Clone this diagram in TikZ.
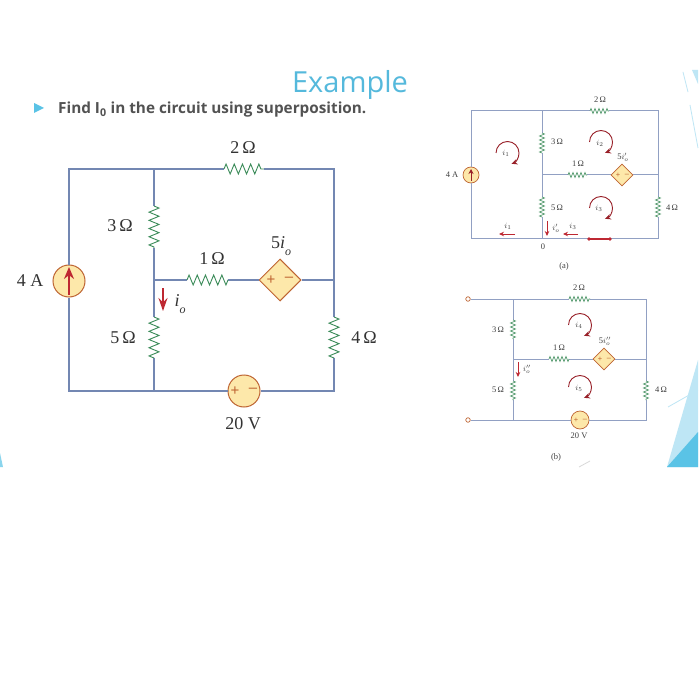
\documentclass[tikz,border=0pt]{standalone}
\usepackage{fontspec}
\setmainfont{Liberation Serif}
\newfontfamily\uifont{Open Sans}
\newfontfamily\signf{Liberation Sans}
\usetikzlibrary{arrows.meta,decorations.pathmorphing,shapes.geometric}
\definecolor{wirec}{RGB}{115,135,178}
\definecolor{wirel}{RGB}{145,160,195}
\definecolor{resc}{RGB}{60,140,90}
\definecolor{srcfill}{RGB}{253,232,170}
\definecolor{srcline}{RGB}{190,100,50}
\definecolor{redc}{RGB}{190,40,50}
\definecolor{titlec}{RGB}{85,185,220}
\definecolor{paleb}{RGB}{190,230,245}
\definecolor{midb}{RGB}{90,195,230}
\newcommand{\ital}[1]{\textit{#1}}
\newcommand{\ohm}{\,Ω}
\newcommand{\iosub}{\ital{i}\raisebox{-0.38em}{\fontsize{12}{12}\selectfont\ital{o}}}
\tikzset{
 x=1pt,y=-1pt,
 wire/.style={draw=wirec,line width=1.2pt},
 wiresm/.style={draw=wirel,line width=1pt},
 res/.style={draw=resc,line width=0.9pt,decoration={zigzag,segment length=8.2pt,amplitude=5pt},decorate},
 ressm/.style={draw=resc,line width=0.6pt,decoration={zigzag,segment length=4pt,amplitude=2.5pt},decorate},
 lab/.style={font=\fontsize{18}{20}\selectfont,text=black!80,inner sep=0pt},
 labs/.style={font=\fontsize{8.5}{9}\selectfont,text=black!75,inner sep=0pt},
 src/.style={circle,draw=srcline,fill=srcfill,line width=1pt,inner sep=0pt,minimum size=#1},
 dep/.style={diamond,aspect=1,draw=srcline,fill=srcfill,line width=1pt,inner sep=0pt,minimum size=#1},
 sign/.style={text=srcline,font=\signf\fontsize{15}{15}\selectfont,inner sep=0pt},
 signs/.style={text=srcline,font=\signf\fontsize{7.5}{8}\selectfont,inner sep=0pt},
 cur/.style={draw=redc,line width=1.5pt,-{Stealth[length=13pt,width=9pt]}},
 curs/.style={draw=redc,line width=0.9pt,-{Stealth[length=5pt,width=4.5pt]}},
 loopa/.style={draw=redc!80!black,line width=0.9pt,-{Stealth[length=6pt,width=5.5pt]}},
}
\begin{document}
\begin{tikzpicture}
\useasboundingbox (0,0) rectangle (698,700);
\fill[white] (0,0) rectangle (698,700);
% slide decoration
\fill[paleb] (698,360) -- (698,467) -- (667,467) -- cycle;
\fill[midb] (698,432) -- (698,467) -- (667,467) -- cycle;
\draw[paleb,line width=0.8pt] (683,72) -- (688,92);
\draw[paleb,line width=0.8pt] (690,105) -- (698,148);
\fill[paleb] (692,70) -- (698,70) -- (698,84) -- cycle;
\draw[paleb,line width=0.8pt] (668,407) -- (698,390);
\draw[black!15,line width=0.8pt] (579,467) -- (590,461);
\fill[midb!70] (0,453) -- (3,467) -- (0,467) -- cycle;
% heading
\node[text=titlec,font=\uifont\fontsize{29}{32}\selectfont,inner sep=0pt] (title) at (350,85) {Example};
\fill[midb] (34,103) -- (44,108) -- (34,113) -- cycle;
\node[anchor=west,text=black!68,font=\uifont\fontsize{15.3}{18}\selectfont\bfseries,inner sep=0pt] (find) at (58,110) {Find I\textsubscript{0} in the circuit using superposition.};
% MAIN CIRCUIT
\coordinate (tl) at (69,169); \coordinate (tm) at (154,169); \coordinate (tr) at (334,169);
\coordinate (ml) at (154,280); \coordinate (mr) at (334,280);
\coordinate (bl) at (69,391); \coordinate (bm) at (154,391); \coordinate (br) at (334,391);
\coordinate (r2a) at (224,169); \coordinate (r2b) at (264,169);
\coordinate (r3a) at (154,206); \coordinate (r3b) at (154,248);
\coordinate (r5a) at (154,317); \coordinate (r5b) at (154,358);
\coordinate (r1a) at (187,280); \coordinate (r1b) at (228,280);
\coordinate (r4a) at (334,317); \coordinate (r4b) at (334,358);
\node[src=32pt] (sA) at (69,281) {};
\node[dep=42pt] (dV) at (280,280) {};
\node[src=32pt] (sV) at (244,391) {};
\draw[wire] (sA) -- (tl) -- (r2a) (r2b) -- (tr) -- (r4a) (r4b) -- (br) -- (sV) -- (bl) -- (sA);
\draw[wire] (tm) -- (r3a) (r3b) -- (r5a) (r5b) -- (bm);
\draw[wire] (ml) -- (r1a) (r1b) -- (dV) (dV) -- (mr);
\draw[res] (r2a) -- (r2b); \draw[res] (r3a) -- (r3b); \draw[res] (r5a) -- (r5b);
\draw[res] (r1a) -- (r1b); \draw[res] (r4a) -- (r4b);
\draw[draw=redc,line width=1.6pt,-{Stealth[length=12pt,width=10pt]}] (69,295) -- (69,267);
\node[sign] at (271,280.5) {+};
\node[sign] at (289,279.5) {–};
\node[sign] at (235,391) {+};
\node[sign] at (253,390.5) {–};
\draw[cur] (163,288) -- (163,311);
\node[lab] (l2) at (243,148) {2\ohm};
\node[lab] (l3) at (120,226) {3\ohm};
\node[lab] (l5) at (123,338) {5\ohm};
\node[lab] (l1) at (212,259) {1\ohm};
\node[lab] (l4) at (364,338) {4\ohm};
\node[lab] (lA) at (30,281) {4 A};
\node[lab] (lV) at (243,424) {20 V};
\node[lab] (lk) at (281,246) {5\iosub};
\node[lab] (lio) at (180,304) {\iosub};
% FIGURE (a)
\coordinate (atl) at (471,111); \coordinate (atm) at (542,111); \coordinate (atr) at (658,111);
\coordinate (aml) at (542,175); \coordinate (amr) at (658,175);
\coordinate (abl) at (471,239); \coordinate (abm) at (542,239); \coordinate (abr) at (658,239);
\coordinate (a2a) at (590,111); \coordinate (a2b) at (609,111);
\coordinate (a3a) at (542,133); \coordinate (a3b) at (542,153);
\coordinate (a5a) at (542,197); \coordinate (a5b) at (542,217);
\coordinate (a1a) at (568,175); \coordinate (a1b) at (587,175);
\coordinate (a4a) at (658,197); \coordinate (a4b) at (658,217);
\coordinate (asa) at (589,239); \coordinate (asb) at (610,239);
\node[src=16pt,line width=0.7pt] (aA) at (471,175) {};
\node[dep=22pt,line width=0.7pt] (aD) at (622,175) {};
\draw[wiresm] (aA) -- (atl) -- (a2a) (a2b) -- (atr) -- (a4a) (a4b) -- (abr) -- (asb) (asa) -- (abl) -- (aA);
\draw[wiresm] (atm) -- (a3a) (a3b) -- (a5a) (a5b) -- (abm);
\draw[wiresm] (aml) -- (a1a) (a1b) -- (aD) (aD) -- (amr);
\draw[ressm] (a2a) -- (a2b); \draw[ressm] (a3a) -- (a3b); \draw[ressm] (a5a) -- (a5b);
\draw[ressm] (a1a) -- (a1b); \draw[ressm] (a4a) -- (a4b);
\draw[draw=redc,line width=1.2pt] (asa) -- (asb);
\fill[redc] (asa) circle (1.8pt) (asb) circle (1.8pt);
\draw[draw=redc!80!black,line width=0.9pt,-{Stealth[length=5pt,width=5pt]}] (471,181) -- (471,169);
\node[signs] at (618,175) {+};
\node[signs] at (627,175) {–};
\draw[loopa] (496,153) arc[start angle=180,end angle=430,radius=11.5];
\draw[loopa] (589.5,142) arc[start angle=180,end angle=430,radius=11.5];
\draw[loopa] (589.5,208) arc[start angle=180,end angle=430,radius=11.5];
\draw[curs] (515,234) -- (499,234);
\draw[curs] (578,234) -- (563,234);
\draw[curs] (547,221) -- (547,236);
\node[labs] at (600,100) {2\ohm};
\node[labs] at (557,142) {3\ohm};
\node[labs] at (557,208) {5\ohm};
\node[labs] at (578,164) {1\ohm};
\node[labs] at (672,208) {4\ohm};
\node[labs] at (452,175) {4 A};
\node[labs] at (623,157) {5$i_o'$};
\node[labs] at (506,153) {$i_1$};
\node[labs] at (600,143) {$i_2$};
\node[labs] at (599,208) {$i_3$};
\node[labs] at (508,226) {$i_1$};
\node[labs] at (573,226) {$i_3$};
\node[labs] at (556,228) {$i_o'$};
\node[labs] at (543,247) {0};
\node[labs] at (564,266) {(a)};
% FIGURE (b)
\coordinate (btm) at (513,299); \coordinate (btr) at (646,299);
\coordinate (bml) at (513,359); \coordinate (bmr) at (646,359);
\coordinate (bbm) at (513,420); \coordinate (bbr) at (646,420);
\coordinate (b2a) at (569,299); \coordinate (b2b) at (590,299);
\coordinate (b3a) at (513,320); \coordinate (b3b) at (513,339);
\coordinate (b5a) at (513,381); \coordinate (b5b) at (513,400);
\coordinate (b1a) at (549,359); \coordinate (b1b) at (569,359);
\coordinate (b4a) at (646,381); \coordinate (b4b) at (646,400);
\node[circle,draw=srcline,fill=white,line width=0.7pt,inner sep=0pt,minimum size=4.5pt] (bt1) at (468,299) {};
\node[circle,draw=srcline,fill=white,line width=0.7pt,inner sep=0pt,minimum size=4.5pt] (bt2) at (468,420) {};
\node[dep=22pt,line width=0.7pt] (bD) at (604,359) {};
\node[src=18pt,line width=0.7pt] (bV) at (580,420) {};
\draw[wiresm] (bt1) -- (b2a) (b2b) -- (btr) -- (b4a) (b4b) -- (bbr) -- (bV) -- (bt2);
\draw[wiresm] (btm) -- (b3a) (b3b) -- (b5a) (b5b) -- (bbm);
\draw[wiresm] (bml) -- (b1a) (b1b) -- (bD) (bD) -- (bmr);
\draw[ressm] (b2a) -- (b2b); \draw[ressm] (b3a) -- (b3b); \draw[ressm] (b5a) -- (b5b);
\draw[ressm] (b1a) -- (b1b); \draw[ressm] (b4a) -- (b4b);
\node[signs] at (600,359) {+};
\node[signs] at (609,359) {–};
\node[signs] at (576,420) {+};
\node[signs] at (585,420) {–};
\draw[loopa] (568.5,325) arc[start angle=180,end angle=430,radius=11.5];
\draw[loopa] (568.5,387) arc[start angle=180,end angle=430,radius=11.5];
\draw[curs] (518,362) -- (518,377);
\node[labs] at (579,288) {2\ohm};
\node[labs] at (498,330) {3\ohm};
\node[labs] at (498,390) {5\ohm};
\node[labs] at (559,348) {1\ohm};
\node[labs] at (661,390) {4\ohm};
\node[labs] at (579,436) {20 V};
\node[labs] at (605,341) {5$i_o''$};
\node[labs] at (579,325) {$i_4$};
\node[labs] at (579,388) {$i_5$};
\node[labs] at (527,369) {$i_o''$};
\node[labs] at (556,457) {(b)};
\end{tikzpicture}
\end{document}
